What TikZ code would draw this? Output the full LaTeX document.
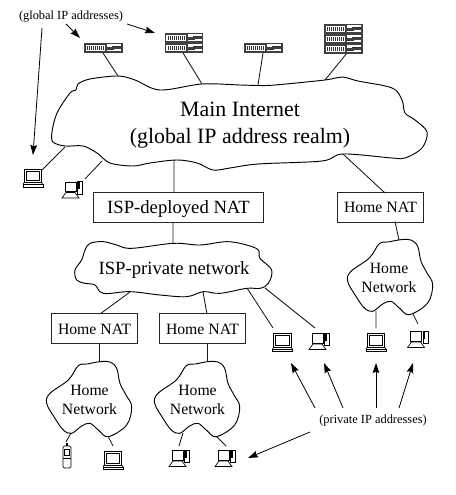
\documentclass[tikz,border=0pt]{standalone}
\usepackage{fontspec}
\setmainfont{Liberation Serif}
\usetikzlibrary{arrows.meta}
\newcommand{\fsA}{\fontsize{16.4}{20}\selectfont}
\newcommand{\fsB}{\fontsize{14}{17}\selectfont}
\newcommand{\fsC}{\fontsize{11.8}{14}\selectfont}
\newcommand{\fsD}{\fontsize{9.3}{11}\selectfont}
\tikzset{
  wire/.style={draw=black!90,line width=0.65pt},
  note/.style={draw=black,line width=0.6pt,-{Stealth[length=7.5pt,width=5pt,inset=1pt]}},
  cloudline/.style={draw=black,line width=0.7pt,fill=white},
  natbox/.style={draw=black!85,line width=0.7pt,fill=white},
  lab/.style={anchor=base,inner sep=0pt,align=center},
  iconline/.style={draw=black,line width=0.5pt},
  pics/homecloud/.style={code={
    \draw[cloudline,scale=1/3] plot[smooth cycle,tension=0.6] coordinates {
      (235,197)(262,192)(300,185)(330,186)(350,205)(360,250)(378,285)(395,320)(380,375)(325,410)
      (295,390)(270,370)(245,378)(215,400)(190,390)(165,355)(140,310)(150,280)(205,240)};
  }},
  pics/laptop/.style={code={
    \draw[iconline,fill=white] (1,0) rectangle (18.5,13.5);
    \draw[iconline,fill=white] (3,2) rectangle (16.5,11.5);
    \draw[iconline,fill=white] (0,15.5) rectangle (20,18);
    \draw[iconline] (1,13.5) -- (0,15.5) (18.5,13.5) -- (20,15.5);
  }},
  pics/desktop/.style={code={
    \draw[iconline,line width=0.7pt,fill=white] (3,0.5) rectangle (14,10);
    \draw[iconline] (5,10) -- (5,11) (11,10) -- (11,11);
    \draw[iconline,fill=white] (4,11) -- (0,16.5) -- (17,16.5) -- (13,11) -- cycle;
    \draw[iconline,fill=white] (15.5,0) rectangle (20.5,12.5);
    \fill[black] (16,1) rectangle (17.5,8);
  }},
  pics/phone/.style={code={
    \fill[black] (3.4,-3.5) rectangle (4.6,0);
    \draw[iconline,fill=white,rounded corners=1pt] (0,0) rectangle (8,22);
    \draw[iconline] (1.5,3) rectangle (6.5,9);
    \draw[iconline] (0,12) -- (8,12);
  }},
}
% one rack unit: 38.5 wide, 10 high
\newcommand{\rackunit}[1]{%
  \begin{scope}[yshift=#1]
    \fill[black!75] (0,0) rectangle (38.5,10);
    \fill[white] (1.5,2) rectangle (21,8);
    \foreach \i in {3,5,...,19} {\fill[black!80] (\i,2.6) rectangle (\i+0.9,7.4);}
    \fill[white] (23,1.5) rectangle (37,4.4);
    \fill[white] (23,5.6) rectangle (37,8.5);
    \fill[black!80] (28,3) rectangle (37,4.4);
    \fill[black!80] (23,5.6) rectangle (30,7);
  \end{scope}}
\begin{document}
\begin{tikzpicture}[x=0.75pt,y=-0.75pt]
\useasboundingbox (0,0) rectangle (455,495);
% connector ends on the clouds
\coordinate (mA) at (118,76);
\coordinate (mB) at (202,84);
\coordinate (mC) at (258,85);
\coordinate (mD) at (325,80);
\coordinate (mE) at (65,147);
\coordinate (mF) at (102,161);
\coordinate (mG) at (174,160);
\coordinate (mH) at (343,154);
\coordinate (iA) at (173,244);
\coordinate (iB) at (130,292);
\coordinate (iC) at (203,292);
\coordinate (iD) at (247,288);
\coordinate (iE) at (265,288);
\coordinate (aA) at (99,362);
\coordinate (aB) at (71,433);
\coordinate (aC) at (108,436);
\coordinate (bA) at (207,362);
\coordinate (bB) at (183,433);
\coordinate (bC) at (216,436);
\coordinate (cA) at (399,240);
\coordinate (cB) at (376,311);
\coordinate (cC) at (413,314);
% connector ends at the devices
\coordinate (r1) at (103,53);
\coordinate (r2) at (183,53);
\coordinate (r3) at (263,53);
\coordinate (r4) at (347,53);
\coordinate (lg) at (42,170);
\coordinate (dg) at (85,179);
\coordinate (li) at (273,328);
\coordinate (di) at (315,328);
\coordinate (ph) at (66,442);
\coordinate (la) at (113,446);
\coordinate (d1) at (179,446);
\coordinate (d2) at (226,446);
\coordinate (lh) at (376,328);
\coordinate (dh) at (418,324);
% free ends of the label arrows
\coordinate (gA) at (42,28);
\coordinate (gB) at (66,24);
\coordinate (gC) at (127,24);
\coordinate (tA) at (33,155);
\coordinate (tB) at (80,38);
\coordinate (tC) at (155,33);
\coordinate (pA) at (315,408);
\coordinate (pB) at (343,408);
\coordinate (pC) at (376,408);
\coordinate (pD) at (399,408);
\coordinate (pE) at (310,432);
\coordinate (qA) at (291,363);
\coordinate (qB) at (324,363);
\coordinate (qC) at (376,363);
\coordinate (qD) at (413,363);
\coordinate (qE) at (248,458);
% wires
\draw[wire] (r1)--(mA) (r2)--(mB) (r3)--(mC) (r4)--(mD) (lg)--(mE) (dg)--(mF);
\draw[wire] (iB)--(100,314) (iC)--(207,314) (iD)--(li) (iE)--(di);
\draw[wire] (aB)--(ph) (aC)--(la) (bB)--(d1) (bC)--(d2) (cB)--(lh) (cC)--(dh);
% main cloud
\draw[cloudline] plot[smooth cycle,tension=0.55] coordinates {
 (76,90)(78,84)(90,79)(118,76)(135,80)(160,90)(202,84)(240,85)(258,85.5)(275,85)(325,80)(342,77)
 (358,81)(392,88)(402,100)(405,113)(415,120)(427,132)(422,148)(405,158)(392,158)(343,154)(322,161)
 (258,164)(230,168)(213,170)(197,163)(177,160)(150,163)(133,166)(110,163)(97,153)(83,146)(65,146)
 (53,142)(52,132)(57,113)(70,93)};
% ISP cloud
\begin{scope}[shift={(60,190)},scale=1/3]
\draw[cloudline] plot[smooth cycle,tension=0.6] coordinates {
 (75,180)(90,160)(130,155)(170,165)(215,175)(340,160)(420,165)(500,155)(560,165)(595,180)(600,205)
 (635,240)(625,280)(600,295)(560,295)(480,310)(430,305)(380,320)(300,315)(210,305)(130,310)(105,285)
 (75,280)(50,270)(45,240)(65,210)};
\end{scope}
% home clouds
\pic at (0,300) {homecloud};
\pic at (108,300) {homecloud};
\pic at (301,178) {homecloud};
% boxes
\node[natbox,minimum width=127.5pt,minimum height=22pt,inner sep=0pt] (ispnat) at (178.5,207.5) {};
\node[natbox,minimum width=64pt,minimum height=22pt,inner sep=0pt] (natA) at (94.5,328.5) {};
\node[natbox,minimum width=64pt,minimum height=22pt,inner sep=0pt] (natB) at (202.5,328.5) {};
\node[natbox,minimum width=64pt,minimum height=22pt,inner sep=0pt] (natC) at (380.5,207.5) {};
\draw[wire] (mG)--(174,193) (173,222)--(iA) (mH)--(385,193) (395,221.5)--(cA);
\draw[wire] (99,343.5)--(aA) (207,343.5)--(bA);
% labels
\node[lab] (tmain) at (240,117) {\fsA Main Internet};
\node[lab] (tmain2) at (240,143.5) {\fsA (global IP address realm)};
\node[lab] (tispn) at (178.5,213) {\fsB ISP-deployed NAT};
\node[lab] (tispc) at (174,274) {\fsB ISP-private network};
\node[lab] (tnatA) at (94.5,334) {\fsC Home NAT};
\node[lab] (tnatB) at (202.5,334) {\fsC Home NAT};
\node[lab] (tnatC) at (380.5,212.5) {\fsC Home NAT};
\node[lab] (tha) at (89.5,395) {\fsC Home};
\node[lab] (tna) at (89.5,414) {\fsC Network};
\node[lab] (thb) at (197.5,395) {\fsC Home};
\node[lab] (tnb) at (197.5,414) {\fsC Network};
\node[lab] (thc) at (389,273) {\fsC Home};
\node[lab] (tnc) at (389,292) {\fsC Network};
\node[lab] (tglobal) at (71,20) {\fsD (global IP addresses)};
\node[lab] (tprivate) at (373,423) {\fsD (private IP addresses)};
% devices
\begin{scope}[shift={(84,43)}]\rackunit{0}\end{scope}
\begin{scope}[shift={(164.5,33)}]\rackunit{0}\rackunit{-7.5pt}\end{scope}
\begin{scope}[shift={(244,43)}]\rackunit{0}\end{scope}
\begin{scope}[shift={(324,24)}]\rackunit{0}\rackunit{-7.5pt}\rackunit{-15pt}\end{scope}
\pic at (23,169) {laptop};
\pic at (62,181.5) {desktop};
\pic at (272.5,333.5) {laptop};
\pic at (309,333) {desktop};
\pic at (366,333.5) {laptop};
\pic at (407.5,331) {desktop};
\pic at (63,446) {phone};
\pic at (103,451.5) {laptop};
\pic at (169,450) {desktop};
\pic at (215,450) {desktop};
% label arrows
\draw[note] (gA)--(tA);
\draw[note] (gB)--(tB);
\draw[note] (gC)--(tC);
\draw[note] (pA)--(qA);
\draw[note] (pB)--(qB);
\draw[note] (pC)--(qC);
\draw[note] (pD)--(qD);
\draw[note] (pE)--(qE);
\end{tikzpicture}
\end{document}
